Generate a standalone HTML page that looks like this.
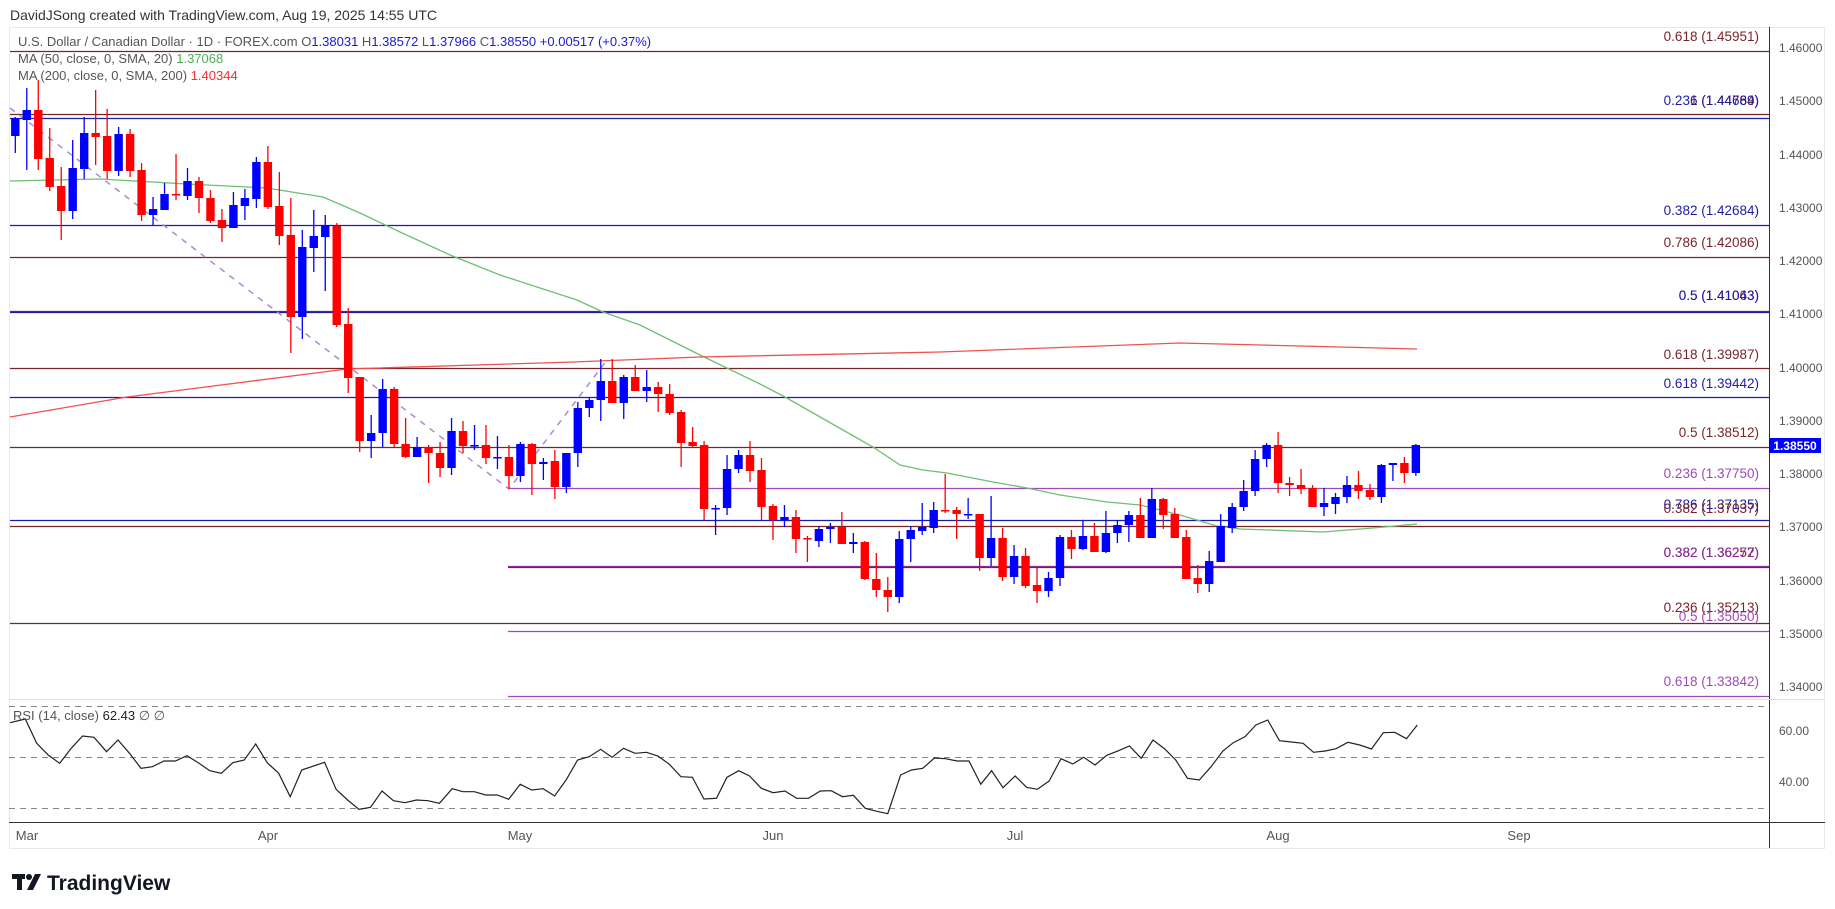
<!DOCTYPE html>
<html><head><meta charset="utf-8"><style>
html,body{margin:0;padding:0;background:#fff;}
body{width:1835px;height:909px;overflow:hidden;position:relative;font-family:"Liberation Sans",sans-serif;}
svg{position:absolute;left:0;top:0;}
text{font-family:"Liberation Sans",sans-serif;}
</style></head><body>
<svg id="s" width="1835" height="909" viewBox="0 0 1835 909" xmlns="http://www.w3.org/2000/svg">
<rect x="0" y="0" width="1835" height="909" fill="#fff"/>
<rect x="9.5" y="27.5" width="1815" height="821" fill="#fff" stroke="#e6e8ee"/>
<line x1="1769.5" y1="27" x2="1769.5" y2="848" stroke="#333" stroke-width="1"/>
<line x1="9" y1="699.5" x2="1825" y2="699.5" stroke="#e0e0e0"/>
<line x1="9" y1="822.5" x2="1825" y2="822.5" stroke="#333"/>
<g stroke="#888" stroke-dasharray="6,5" stroke-width="1">
<line x1="9" y1="706.5" x2="1765" y2="706.5"/>
<line x1="9" y1="757.5" x2="1765" y2="757.5"/>
<line x1="9" y1="808.5" x2="1765" y2="808.5"/>
</g>
<g id="hl"></g>
<g id="ma"></g>
<g id="cd"></g>
<g font-size="13.5" text-anchor="end">
<text x="1759" y="41" fill="#7a2428">0.618 (1.45951)</text>
<text x="1759" y="105" fill="#7a2428">1 (1.44764)</text>
<text x="1759" y="105" fill="#1c1ca8">0.236 (1.44689)</text>
<text x="1759" y="215" fill="#1c1ca8">0.382 (1.42684)</text>
<text x="1759" y="247" fill="#7a2428">0.786 (1.42086)</text>
<text x="1759" y="300" fill="#7a2428">0.5 (1.41063)</text>
<text x="1759" y="300" fill="#1c1ca8">0.5 (1.41043)</text>
<text x="1759" y="359" fill="#7a2428">0.618 (1.39987)</text>
<text x="1759" y="388" fill="#1c1ca8">0.618 (1.39442)</text>
<text x="1759" y="437" fill="#7a2428">0.5 (1.38512)</text>
<text x="1759" y="478" fill="#a04ab8">0.236 (1.37750)</text>
<text x="1759" y="509" fill="#1c1ca8">0.786 (1.37135)</text>
<text x="1759" y="513" fill="#7a2428">0.382 (1.37037)</text>
<text x="1759" y="557" fill="#7a2428">0.382 (1.36257)</text>
<text x="1759" y="557" fill="#8a2a9a">0.382 (1.36272)</text>
<text x="1759" y="612" fill="#7a2428">0.236 (1.35213)</text>
<text x="1759" y="621" fill="#a04ab8">0.5 (1.35050)</text>
<text x="1759" y="686" fill="#a04ab8">0.618 (1.33842)</text>
</g>
<g font-size="12" fill="#555">
<text x="1779" y="52">1.46000</text>
<text x="1779" y="105">1.45000</text>
<text x="1779" y="159">1.44000</text>
<text x="1779" y="212">1.43000</text>
<text x="1779" y="265">1.42000</text>
<text x="1779" y="318">1.41000</text>
<text x="1779" y="372">1.40000</text>
<text x="1779" y="425">1.39000</text>
<text x="1779" y="478">1.38000</text>
<text x="1779" y="531">1.37000</text>
<text x="1779" y="585">1.36000</text>
<text x="1779" y="638">1.35000</text>
<text x="1779" y="691">1.34000</text>
<text x="1779" y="735">60.00</text>
<text x="1779" y="786">40.00</text>
</g>
<rect x="1769" y="438" width="52" height="15" fill="#0000ff"/>
<text x="1795" y="450" font-size="12" font-weight="bold" fill="#fff" text-anchor="middle">1.38550</text>
<g font-size="13" fill="#555" text-anchor="middle">
<text x="27" y="840">Mar</text>
<text x="268" y="840">Apr</text>
<text x="520" y="840">May</text>
<text x="773" y="840">Jun</text>
<text x="1015" y="840">Jul</text>
<text x="1278" y="840">Aug</text>
<text x="1519" y="840">Sep</text>
</g>
<text x="10" y="20" font-size="14" fill="#333">DavidJSong created with TradingView.com, Aug 19, 2025 14:55 UTC</text>
<text x="18" y="46" font-size="13" fill="#555">U.S. Dollar / Canadian Dollar · 1D · FOREX.com  O<tspan fill="#1a1ad0">1.38031</tspan>  H<tspan fill="#1a1ad0">1.38572</tspan>  L<tspan fill="#1a1ad0">1.37966</tspan>  C<tspan fill="#1a1ad0">1.38550</tspan>  <tspan fill="#1a1ad0">+0.00517 (+0.37%)</tspan></text>
<text x="18" y="63" font-size="13" fill="#555">MA (50, close, 0, SMA, 20)  <tspan fill="#4caf50">1.37068</tspan></text>
<text x="18" y="80" font-size="13" fill="#555">MA (200, close, 0, SMA, 200)  <tspan fill="#f23030">1.40344</tspan></text>
<text x="13" y="720" font-size="13" fill="#555">RSI (14, close)  <tspan fill="#222">62.43</tspan>  ∅  ∅</text>
<g transform="translate(12,872)">
<rect x="0" y="2" width="13" height="5" fill="#131722"/>
<rect x="5" y="2" width="5" height="16" fill="#131722"/>
<circle cx="17" cy="5" r="3" fill="#131722"/>
<polygon points="23,2 29,2 21,18 15,18" fill="#131722"/>
<text x="35" y="18" font-size="21" font-weight="bold" fill="#131722">TradingView</text>
</g>
</svg>
<script>
const NS="http://www.w3.org/2000/svg";
function el(p,t,a){const e=document.createElementNS(NS,t);for(const k in a)e.setAttribute(k,a[k]);p.appendChild(e);return e;}
const Y=p=>48+(1.46-p)*5328;
const hl=document.getElementById('hl');
const BR="#7a2428",BL="#1c1ca8",PU="#a04ab8";
[[1.45951,BR,10],[1.44764,BR,10],[1.44689,BL,10],[1.42684,BL,10],[1.42086,BR,10],[1.41063,BR,10],[1.41043,BL,10],[1.39987,BR,10],[1.39442,BL,10],[1.38512,BR,10],[1.3775,PU,508],[1.37135,BL,10],[1.37037,BR,10],[1.36257,BR,508],[1.36272,"#8a2a9a",508],[1.35213,BR,10],[1.3505,PU,508],[1.33842,PU,508]].forEach(l=>{
 const y=Math.round(Y(l[0]))+0.5;el(hl,'line',{x1:l[2],y1:y,x2:1769,y2:y,stroke:l[1],'stroke-width':1.3});});
el(hl,'polyline',{points:"10,108 509,489 607,360",fill:"none",stroke:"#a98bd0",'stroke-width':1.5,'stroke-dasharray':'6,6'});
const ma=document.getElementById('ma');
el(ma,'polyline',{points:"10,181 100,179 187,184 267,188 323,197 360,213 400,232 450,255 500,275 540,288 577,300 603,312 640,325 700,355 760,384 785,397 843,430 873,447 900,465 923,470 947,473 993,482 1027,488 1060,495 1107,502 1140,505 1180,515 1217,526 1240,529 1323,532 1373,528 1417,524",fill:"none",stroke:"#6fbf73",'stroke-width':1.3});
el(ma,'polyline',{points:"10,417 127,397 347,369 573,362 700,357 940,352 1180,343 1300,346 1417,349",fill:"none",stroke:"#ef5350",'stroke-width':1.3});
// candles: type, bodyTop, bodyBot, wickTop, wickBot
const C=[
"B,118,136,117,153","B,110,120,88,170","R,110,159,80,170","R,158,187,128,191","R,186,211,167,240","B,168,211,140,219","B,133,169,117,179","R,133,137,90,165","R,136,171,109,179","B,134,171,127,176",
"R,134,171,129,177","R,170,215,163,221","B,209,215,197,225","B,194,210,183,210","R,194,195,154,200","B,181,196,168,200","R,181,198,177,213","R,198,221,190,223","R,220,228,209,242","B,205,228,192,228",
"B,198,206,189,220","B,162,199,157,208","R,162,207,146,209","R,206,236,172,245","R,235,317,198,353","B,247,317,230,339","B,236,248,210,272","B,225,237,215,291","R,226,325,223,327","R,324,378,308,393",
"R,377,441,377,452","B,433,441,415,458","B,389,433,379,447","R,389,444,387,447","R,444,457,418,458","B,447,457,437,457","R,447,453,445,483","R,453,468,442,477","B,431,468,418,475","R,431,446,421,453",
"B,445,446,425,450","R,445,458,425,464","B,457,458,436,469","R,457,476,445,489","B,444,476,442,482","R,444,464,443,495","B,462,464,458,480","R,461,487,450,499","B,453,487,453,493","B,408,453,402,467",
"B,400,408,397,417","B,381,400,359,421","R,381,403,359,403","B,377,403,375,419","R,377,391,365,391","B,387,391,370,402","R,387,394,382,412","R,394,413,384,415","R,412,443,410,467","R,442,446,427,448",
"R,445,509,441,520","B,508,509,505,535","B,469,508,455,515","B,455,469,450,473","R,455,471,441,482","R,470,507,458,520","R,506,520,504,540","B,517,520,505,527","R,517,539,510,553","R,538,539,536,562",
"B,529,541,526,547","B,527,529,523,543","R,527,544,512,544","B,542,544,533,553","R,542,579,541,580","R,579,590,553,597","R,590,597,577,612","B,539,597,531,603","B,530,539,526,562","B,527,531,503,535",
"B,510,528,502,533","R,510,511,474,513","R,510,514,507,539","B,514,515,498,519","R,514,558,514,571","B,538,558,496,566","R,538,577,528,581","B,556,577,545,584","R,556,586,548,588","R,585,591,567,603",
"B,578,591,572,597","B,537,578,535,586","R,537,549,530,559","B,536,549,520,550","R,536,552,523,552","B,533,552,511,553","B,525,533,520,543","B,515,525,511,542","R,515,538,498,538","B,499,538,488,538",
"R,499,515,498,529","R,514,538,508,538","R,537,579,530,579","R,578,584,565,593","B,561,584,551,592","B,526,562,514,562","B,507,528,503,533","B,491,507,480,511","B,459,491,450,496","B,445,459,443,467",
"R,445,483,432,493","R,483,485,477,496","R,485,489,469,494","R,488,507,485,507","B,503,507,488,516","B,497,504,493,514","B,485,497,476,503","R,485,491,471,499","R,490,497,484,500","B,465,497,464,503",
"B,463,465,463,481","R,463,473,457,483","B,445,473,444,476"];
const cd=document.getElementById('cd');
C.forEach((s,i)=>{const a=s.split(',');const col=a[0]=='B'?'#0000ff':'#ff0000';const x=15.3+11.48*i;
 const bt=+a[1],bb=+a[2],wt=Math.min(+a[3],bt),wb=Math.max(+a[4],bb);
 el(cd,'line',{x1:x,y1:wt,x2:x,y2:wb,stroke:col,'stroke-width':1.3});
 el(cd,'rect',{x:x-4.2,y:bt,width:8.4,height:Math.max(1.5,bb-bt),fill:col});});
// RSI
const r1=[[22,68],[55,57],[80,130],[105,165],[130,190],[155,145],[180,108],[205,112],[232,155],[257,120],[282,160],[307,205],[332,200],[357,183],[382,183],[407,167],[432,188],[457,212],[482,220],[507,188],[532,180],[557,132],[582,188],[607,220],[632,290],[657,210],[707,187],[732,268],[757,300],[782,328],[807,322],[832,273],[857,302],[882,308],[907,300],[932,302],[957,310],[985,266],[1008,275],[1033,275],[1058,285],[1083,285],[1108,298],[1133,253],[1158,270],[1183,266],[1208,288],[1233,240],[1258,180],[1283,170],[1308,148],[1333,172],[1358,145],[1383,160],[1408,157],[1433,168],[1458,193],[1483,230],[1508,232],[1533,297],[1558,295]];
const r2=[[8,297],[35,295],[57,232],[82,212],[105,228],[130,265],[155,278],[180,273],[205,295],[230,295],[255,273],[278,272],[302,290],[325,286],[350,325],[375,334],[398,341],[425,225],[448,210],[472,205],[497,174],[520,176],[545,183],[570,183],[595,253],[618,212],[642,263],[668,228],[692,262],[715,268],[740,243],[765,176],[790,192],[813,172],[837,195],[862,166],[887,152],[910,138],[935,175],[960,120],[985,147],[1008,180],[1033,235],[1058,240],[1083,200],[1108,153],[1130,128],[1155,110],[1178,75],[1203,60],[1228,122],[1253,126],[1278,130],[1300,157],[1325,153],[1348,146],[1373,127],[1398,135],[1423,147],[1448,98],[1472,97],[1497,116],[1520,75]];
const pts=r1.map(p=>(p[0]/2.178).toFixed(1)+','+(700+p[1]/3).toFixed(1)).concat(r2.map(p=>(700+p[0]/2.119).toFixed(1)+','+(700+p[1]/3).toFixed(1)));
el(cd,'polyline',{points:pts.join(' '),fill:'none',stroke:'#222','stroke-width':1.2});
</script>
</body></html>
